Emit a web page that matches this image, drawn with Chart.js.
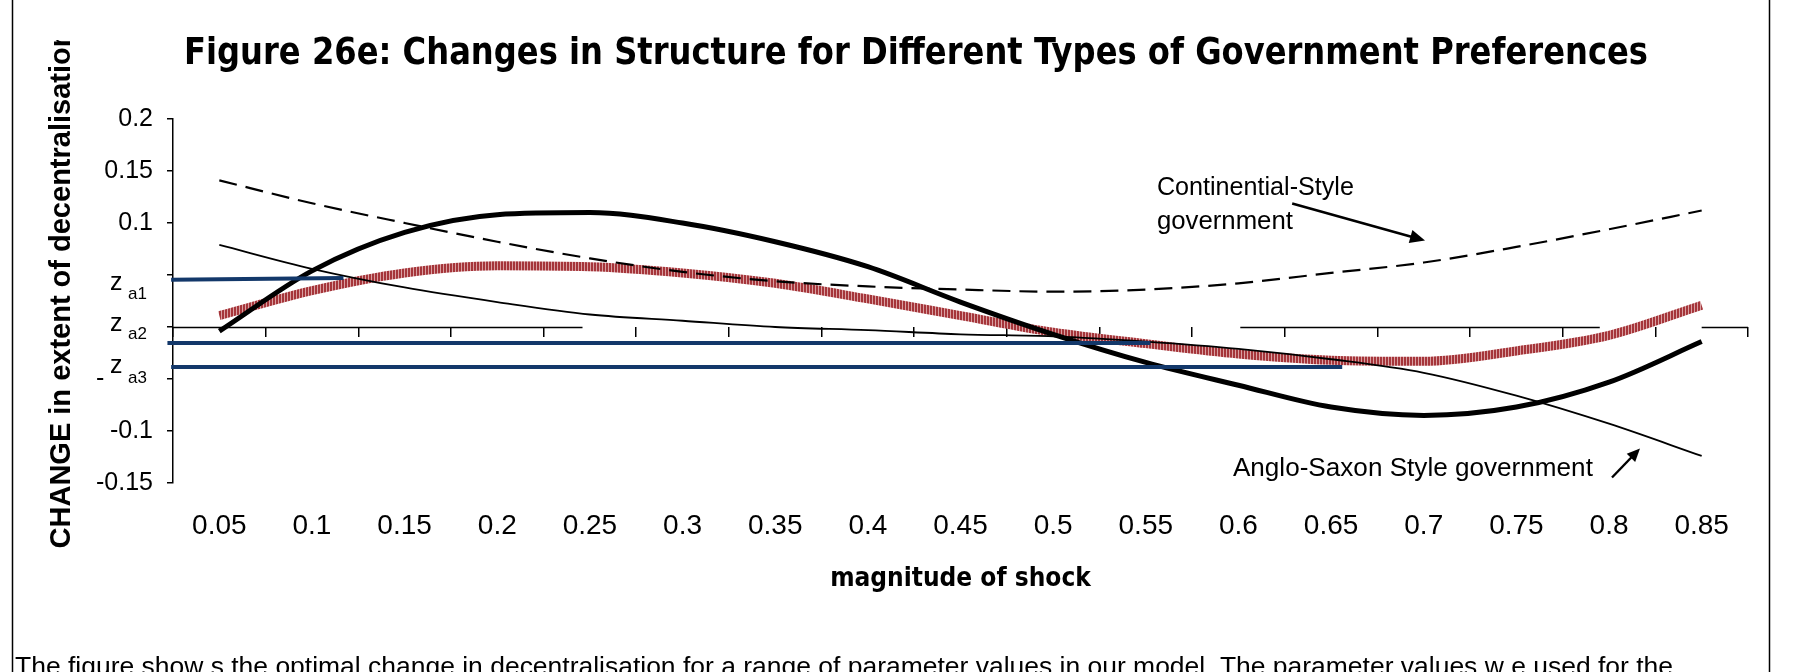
<!DOCTYPE html>
<html>
<head>
<meta charset="utf-8">
<title>Figure 26e</title>
<script src="https://cdn.jsdelivr.net/npm/chart.js@4.4.1/dist/chart.umd.min.js"></script>
<style>
  html, body { margin: 0; padding: 0; background: #fff; }
  #wrap { position: relative; width: 1805px; height: 672px; }
</style>
</head>
<body>
<div id="wrap"><canvas id="chart" width="1805" height="672"></canvas></div>
<script>
// magnitude of shock (x categories)
var shockLabels = ['0.05', '0.1', '0.15', '0.2', '0.25', '0.3', '0.35', '0.4', '0.45',
                   '0.5', '0.55', '0.6', '0.65', '0.7', '0.75', '0.8', '0.85'];

// change in extent of decentralisation
var continentalStyle = [0.141, 0.119, 0.100, 0.082, 0.066, 0.053, 0.044, 0.039, 0.036,
                        0.034, 0.036, 0.042, 0.052, 0.062, 0.077, 0.094, 0.112];
var angloSaxonStyle = [0.079, 0.056, 0.038, 0.024, 0.012, 0.006, 0.000, -0.003, -0.007,
                       -0.009, -0.014, -0.021, -0.031, -0.044, -0.066, -0.093, -0.124];
var thickSeries = [-0.004, 0.054, 0.091, 0.108, 0.110, 0.100, 0.082, 0.058, 0.024,
                   -0.007, -0.034, -0.056, -0.077, -0.085, -0.077, -0.053, -0.014];
var redSeries = [0.011, 0.035, 0.052, 0.059, 0.058, 0.052, 0.042, 0.027, 0.011,
                 -0.005, -0.016, -0.026, -0.032, -0.033, -0.023, -0.008, 0.021];

// threshold lines z_a1, z_a2, z_a3 (level at start / end, shock where they stop)
var zNames = ['a1', 'a2', 'a3'];
var zLevelStart = [0.0455, -0.0155, -0.0385];
var zLevelEnd = [0.047, -0.0155, -0.0385];
var zShockFrom = [0.024, 0.022, 0.024];
var zShockTo = [0.117, 0.5525, 0.656];

// y axis ticks, the z labels sit where 0.05, 0 and -0.05 used to be
var yTickValues = [-0.15, -0.1, -0.05, 0, 0.05, 0.1, 0.15, 0.2];
var zTickValues = [0.05, 0, -0.05];

var sans = '"Liberation Sans", Arial, sans-serif';
var condensed = '"DejaVu Sans Condensed", "DejaVu Sans", sans-serif';

Chart.defaults.font.family = sans;
Chart.defaults.color = '#000';

function stripePattern(ctx) {
    var c = document.createElement('canvas');
    c.width = 3;
    c.height = 1;
    var g = c.getContext('2d');
    g.fillStyle = '#a5353a';
    g.fillRect(0, 0, 2, 1);
    g.fillStyle = '#d9a0a2';
    g.fillRect(2, 0, 1, 1);
    return ctx.createPattern(c, 'repeat');
}

// text squeezed/stretched to a given width, like the original export
function fitText(ctx, text, x, y, width, font) {
    ctx.font = font;
    var w = ctx.measureText(text).width;
    ctx.save();
    ctx.translate(x, y);
    ctx.scale(width / w, 1);
    ctx.textAlign = 'left';
    ctx.textBaseline = 'alphabetic';
    ctx.fillText(text, 0, 0);
    ctx.restore();
}

function arrow(ctx, x1, y1, x2, y2, lw, head) {
    var a = Math.atan2(y2 - y1, x2 - x1);
    ctx.save();
    ctx.strokeStyle = '#000';
    ctx.fillStyle = '#000';
    ctx.lineWidth = lw;
    ctx.beginPath();
    ctx.moveTo(x1, y1);
    ctx.lineTo(x2 - Math.cos(a) * head * 0.7, y2 - Math.sin(a) * head * 0.7);
    ctx.stroke();
    ctx.beginPath();
    ctx.moveTo(x2, y2);
    ctx.lineTo(x2 - head * Math.cos(a) + head * 0.45 * Math.sin(a), y2 - head * Math.sin(a) - head * 0.45 * Math.cos(a));
    ctx.lineTo(x2 - head * Math.cos(a) - head * 0.45 * Math.sin(a), y2 - head * Math.sin(a) + head * 0.45 * Math.cos(a));
    ctx.closePath();
    ctx.fill();
    ctx.restore();
}

var extras = {
    id: 'extras',
    beforeDatasetsDraw: function(chart) {
        var ctx = chart.ctx;
        var xl = chart.scales.xl;
        var y0 = Math.round(chart.scales.y.getPixelForValue(0)) + 0.5;
        // the zero line is broken in a few places in the original
        var parts = [[0.025, 0.246], [0.601, 0.795], [0.85, 0.875]];
        ctx.save();
        ctx.strokeStyle = '#000';
        ctx.lineWidth = 1.5;
        for (var i = 0; i < parts.length; i++) {
            ctx.beginPath();
            ctx.moveTo(xl.getPixelForValue(parts[i][0]), y0);
            ctx.lineTo(xl.getPixelForValue(parts[i][1]), y0);
            ctx.stroke();
        }
        ctx.restore();
    },
    afterDraw: function(chart) {
        var ctx = chart.ctx;
        var xl = chart.scales.xl;
        var ys = chart.scales.y;
        var left = chart.chartArea.left;
        ctx.save();
        ctx.fillStyle = '#000';

        // figure title
        fitText(ctx, 'Figure 26e: Changes in Structure for Different Types of Government Preferences',
                184, 64, 1464, 'bold 38px ' + condensed);

        // y axis title, cut off at the top like the original
        ctx.save();
        ctx.beginPath();
        ctx.rect(0, 40, chart.width, chart.height - 40);
        ctx.clip();
        ctx.translate(62, 289);
        ctx.rotate(-Math.PI / 2);
        ctx.font = 'bold 29px ' + sans;
        ctx.textAlign = 'center';
        ctx.textBaseline = 'middle';
        ctx.fillText('CHANGE in extent of decentralisation', 0, 0);
        ctx.restore();

        // z labels next to the y axis
        var zBase = [0.0351, -0.0034, -0.0447];
        var subBase = [0.0274, -0.0111, -0.0534];
        ctx.textAlign = 'left';
        ctx.textBaseline = 'alphabetic';
        for (var i = 0; i < zNames.length; i++) {
            ctx.font = '25px ' + sans;
            ctx.fillText('z', left - 63, ys.getPixelForValue(zBase[i]));
            ctx.font = '17px ' + sans;
            ctx.fillText(zNames[i], left - 45, ys.getPixelForValue(subBase[i]));
        }
        ctx.font = '25px ' + sans;
        ctx.fillText('-', left - 77, ys.getPixelForValue(-0.0563));

        // annotations
        fitText(ctx, 'Continential-Style', xl.getPixelForValue(0.556), ys.getPixelForValue(0.1274), 197, '25px ' + sans);
        fitText(ctx, 'government', xl.getPixelForValue(0.556), ys.getPixelForValue(0.0938), 136, '25px ' + sans);
        arrow(ctx, xl.getPixelForValue(0.629), ys.getPixelForValue(0.1188),
              xl.getPixelForValue(0.7007), ys.getPixelForValue(0.0832), 2.6, 15);
        fitText(ctx, 'Anglo-Saxon Style government', xl.getPixelForValue(0.597), ys.getPixelForValue(-0.1428), 360, '26px ' + sans);
        arrow(ctx, xl.getPixelForValue(0.8016), ys.getPixelForValue(-0.1447),
              xl.getPixelForValue(0.8167), ys.getPixelForValue(-0.1168), 2.4, 13);

        // caption, cut by the bottom edge
        fitText(ctx, 'The figure show s the optimal change in decentralisation for a range of parameter values in our model. The parameter values w e used for the',
                15, 675, 1658, '25px ' + sans);

        // frame
        ctx.strokeStyle = '#000';
        ctx.lineWidth = 1.5;
        ctx.beginPath();
        ctx.moveTo(12.5, 0);
        ctx.lineTo(12.5, chart.height);
        ctx.moveTo(1769.5, 0);
        ctx.lineTo(1769.5, chart.height);
        ctx.stroke();
        ctx.restore();
    }
};

var canvas = document.getElementById('chart');
var context = canvas.getContext('2d');

var datasets = [];
for (var i = 0; i < zNames.length; i++) {
    datasets.push({
        label: 'z ' + zNames[i],
        xAxisID: 'xl',
        yAxisID: 'y',
        data: [{x: zShockFrom[i], y: zLevelStart[i]}, {x: zShockTo[i], y: zLevelEnd[i]}],
        borderColor: '#13386a',
        borderWidth: 4,
        pointRadius: 0,
        clip: false,
        order: 0
    });
}
datasets.push({
    label: 'thick',
    xAxisID: 'x',
    yAxisID: 'y',
    data: thickSeries,
    borderColor: '#000',
    borderWidth: 5,
    pointRadius: 0,
    cubicInterpolationMode: 'monotone',
    order: 1
});
datasets.push({
    label: 'Anglo-Saxon Style government',
    xAxisID: 'x',
    yAxisID: 'y',
    data: angloSaxonStyle,
    borderColor: '#000',
    borderWidth: 1.8,
    pointRadius: 0,
    cubicInterpolationMode: 'monotone',
    order: 2
});
datasets.push({
    label: 'Continential-Style government',
    xAxisID: 'x',
    yAxisID: 'y',
    data: continentalStyle,
    borderColor: '#000',
    borderWidth: 2.2,
    borderDash: [18, 9],
    pointRadius: 0,
    cubicInterpolationMode: 'monotone',
    order: 3
});
datasets.push({
    label: 'red',
    xAxisID: 'x',
    yAxisID: 'y',
    data: redSeries,
    borderColor: stripePattern(context),
    borderWidth: 9,
    pointRadius: 0,
    cubicInterpolationMode: 'monotone',
    order: 4
});

new Chart(canvas, {
    type: 'line',
    data: {
        labels: shockLabels,
        datasets: datasets
    },
    options: {
        responsive: false,
        animation: false,
        events: [],
        layout: {
            padding: {top: 119, right: 57, bottom: 0, left: 0}
        },
        plugins: {
            legend: {display: false},
            tooltip: {enabled: false},
            title: {display: false}
        },
        scales: {
            x: {
                type: 'category',
                position: 'bottom',
                offset: true,
                grid: {display: false, drawTicks: false},
                border: {display: false},
                ticks: {
                    font: {size: 28},
                    padding: 26,
                    maxRotation: 0,
                    autoSkip: false
                },
                title: {
                    display: true,
                    text: 'magnitude of shock',
                    font: {family: condensed, weight: 'bold', size: 26},
                    padding: {top: 0, bottom: 77}
                },
                afterFit: function(scale) { scale.height = 189; }
            },
            x2: {
                type: 'category',
                position: {y: 0},
                offset: true,
                grid: {
                    display: true,
                    offset: true,
                    drawOnChartArea: false,
                    drawTicks: true,
                    tickLength: 10,
                    color: '#000',
                    lineWidth: 1.5
                },
                border: {display: false},
                ticks: {display: false}
            },
            xl: {
                type: 'linear',
                display: false,
                min: 0.025,
                max: 0.875
            },
            y: {
                type: 'linear',
                position: 'left',
                min: -0.15,
                max: 0.2,
                afterBuildTicks: function(scale) {
                    scale.ticks = yTickValues.map(function(v) { return {value: v}; });
                },
                grid: {
                    drawOnChartArea: false,
                    drawTicks: true,
                    tickLength: 6,
                    color: '#000',
                    lineWidth: 1.5
                },
                border: {display: true, color: '#000', width: 1.5},
                ticks: {
                    font: {size: 25},
                    padding: 14,
                    callback: function(value) {
                        var v = Math.round(value * 100) / 100;
                        if (zTickValues.indexOf(v) >= 0) {
                            return '';
                        }
                        return String(v);
                    }
                },
                afterFit: function(scale) { scale.width = 173; }
            }
        }
    },
    plugins: [extras]
});
</script>
</body>
</html>
